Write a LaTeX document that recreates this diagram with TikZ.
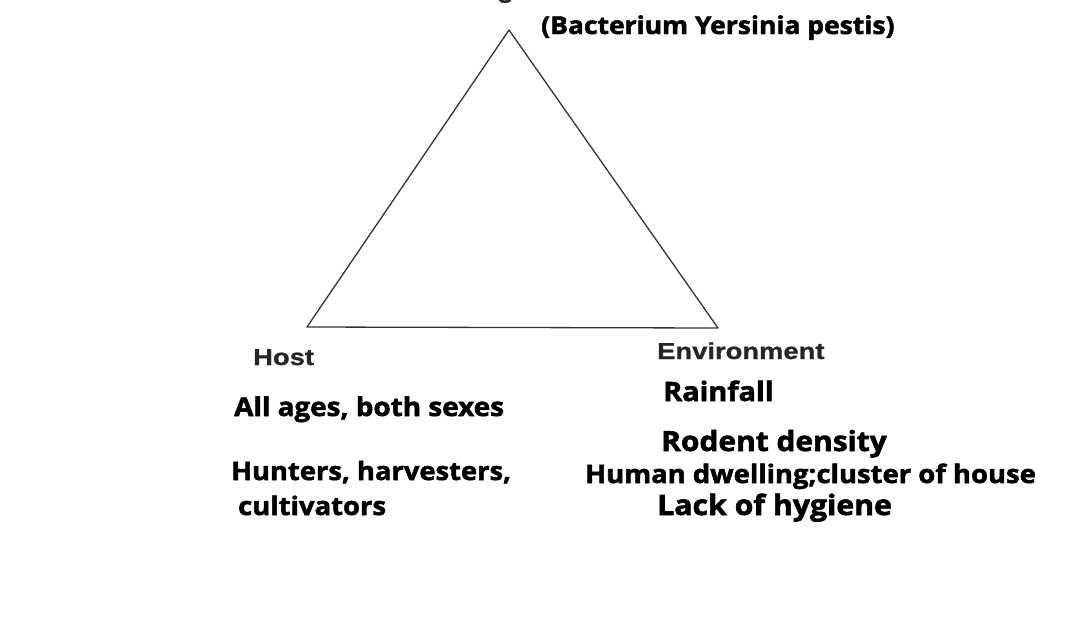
\documentclass[tikz,border=0pt]{standalone}
\usepackage{fontspec}
\newfontfamily\factorfont{Open Sans}[FakeStretch=1.08, BoldFeatures={FakeBold=2}]
\newfontfamily\vertexfont{Liberation Sans}[FakeStretch=1.19, BoldFeatures={FakeBold=1}]
\begin{document}
\begin{tikzpicture}[
            x=1pt, y=-1pt,
            every node/.style={inner sep=0pt, anchor=base west},
            vertex/.style={font=\vertexfont\bfseries\fontsize{23}{28}\selectfont, text=black!85},
            factor/.style={font=\factorfont\bfseries\fontsize{#1}{#1}\selectfont},
            side/.style={draw=black!80, line width=1.3pt, line join=round}
        ]
        \useasboundingbox (0,0) rectangle (1080,630);
        \clip (0,0) rectangle (1080,630);

        % epidemiological triangle
        \coordinate (agent) at (509,30);
        \coordinate (host) at (307,327);
        \coordinate (env) at (718,328);
        \draw[side] (agent) -- (env) -- (host) -- cycle;

        % vertex labels
        \node[vertex] (agentlabel) at (477,-2) {Agent};
        \node[factor=24.5] (bacterium) at (541,34) {(Bacterium Yersinia pestis)};
        \node[vertex] (hostlabel) at (253,365) {Host};
        \node[vertex] (envlabel) at (657,359) {Environment};

        % host factors
        \node[factor=25.8] (ages) at (234,416) {All ages, both sexes};
        \node[factor=25.3] (hunters) at (231,480) {Hunters, harvesters,};
        \node[factor=25.4] (cultivators) at (238,515) {cultivators};

        % environment factors
        \node[factor=26.7] (rainfall) at (663,401) {Rainfall};
        \node[factor=27.7] (rodent) at (661,451) {Rodent density};
        \node[factor=25.4] (dwelling) at (585,483) {Human dwelling;cluster of house};
        \node[factor=28] (hygiene) at (657,515) {Lack of hygiene};

        \end{tikzpicture}
\end{document}
